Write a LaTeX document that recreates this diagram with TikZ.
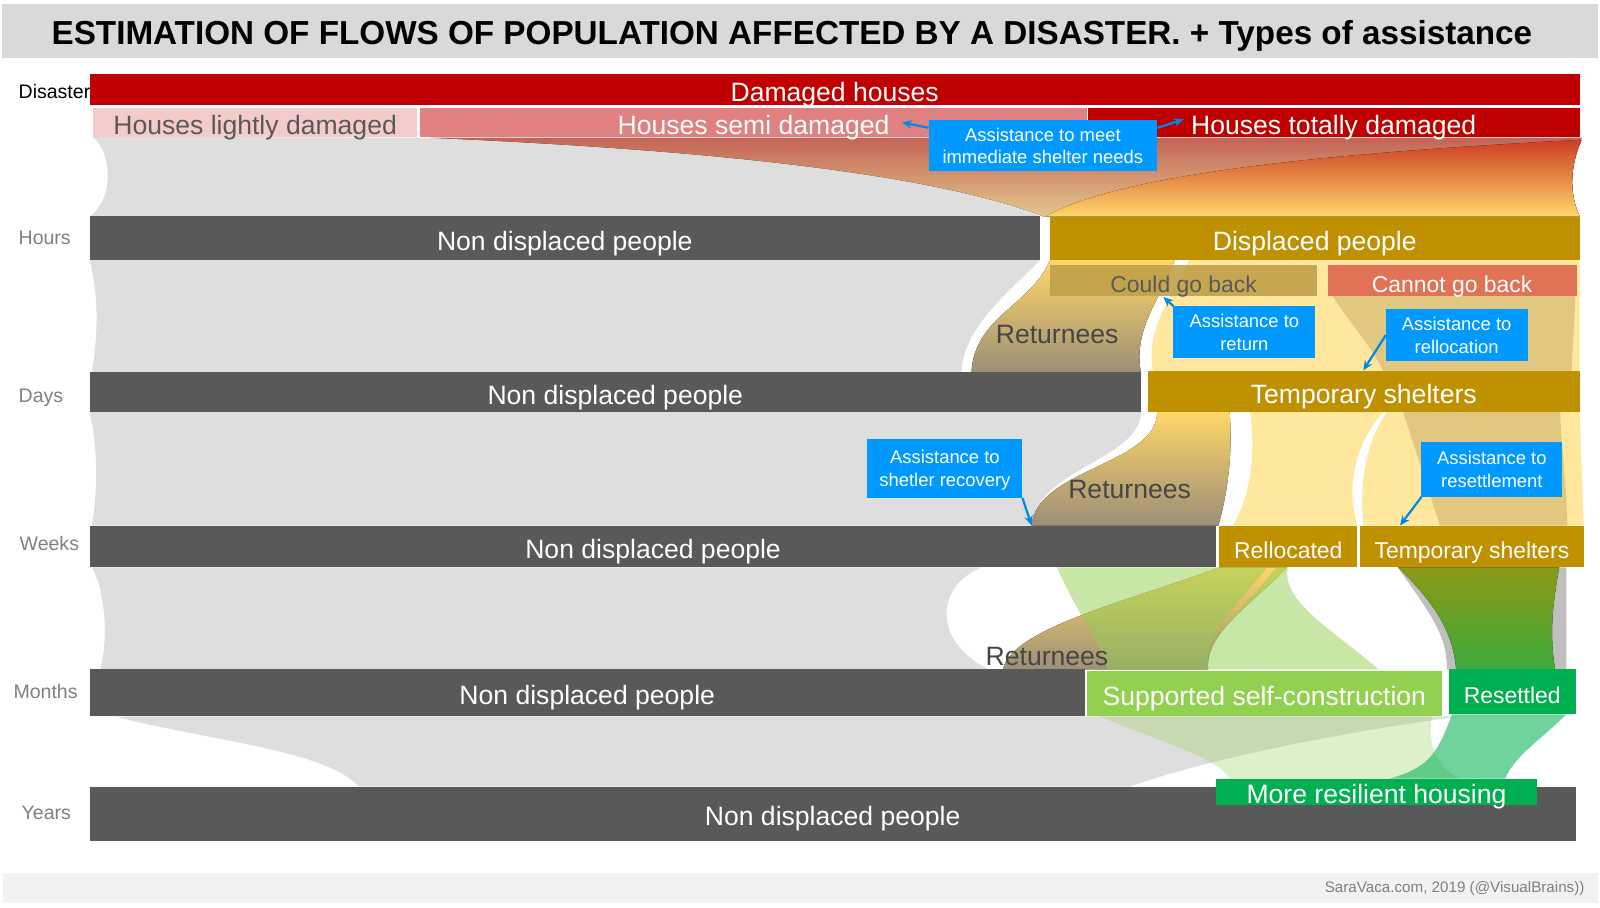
\documentclass[tikz,border=0pt]{standalone}
\usepackage{fontspec}
\setmainfont{Liberation Sans}
\usetikzlibrary{arrows.meta,positioning}
\definecolor{ndgray}{RGB}{89,89,89}
\definecolor{flowgray}{RGB}{222,222,222}
\definecolor{slivergray}{RGB}{191,191,191}
\definecolor{dmgred}{RGB}{192,0,0}
\definecolor{lightpink}{RGB}{243,203,203}
\definecolor{semired}{RGB}{224,128,128}
\definecolor{dispgold}{RGB}{191,144,0}
\definecolor{couldtan}{RGB}{192,160,72}
\definecolor{cannotred}{RGB}{226,114,86}
\definecolor{selfgreen}{RGB}{146,208,80}
\definecolor{resgreen}{RGB}{0,176,80}
\definecolor{callblue}{RGB}{0,153,255}
\definecolor{lightyel}{RGB}{255,231,158}
\definecolor{tanflow}{RGB}{226,199,128}
\definecolor{retyel}{RGB}{255,214,105}
\definecolor{retbrown}{RGB}{155,143,118}
\definecolor{mutedtop}{RGB}{196,100,86}
\definecolor{mutedbot}{RGB}{226,200,140}
\definecolor{vivtop}{RGB}{205,60,35}
\definecolor{vivmid}{RGB}{242,140,55}
\definecolor{vivbot}{RGB}{255,215,105}
\definecolor{olivetop}{RGB}{140,152,22}
\definecolor{olivebot}{RGB}{60,170,60}
\definecolor{labgray}{RGB}{128,128,128}
\definecolor{retgray}{RGB}{70,70,70}
\definecolor{titlegray}{RGB}{217,217,217}
\definecolor{footgray}{RGB}{242,242,242}
\newcommand{\pxu}{0.02551cm}
\newcommand{\bigfs}{\fontsize{18.9}{22}\selectfont}
\newcommand{\midfs}{\fontsize{16.3}{19}\selectfont}
\newcommand{\callfs}{\fontsize{13.1}{16}\selectfont}
\newcommand{\rowfs}{\fontsize{13.9}{16}\selectfont}
\tikzset{
  stage/.style={inner sep=0pt, outer sep=0pt, text=white, font=\bigfs, text height=17pt, text depth=0pt},
  redbar/.style={stage, fill=dmgred},
  pinkbar/.style={stage, fill=lightpink, text=ndgray},
  semibar/.style={stage, fill=semired},
  ndbar/.style={stage, fill=ndgray},
  goldbar/.style={stage, fill=dispgold},
  couldbar/.style={stage, fill=couldtan, fill opacity=0.9, text opacity=1, text=ndgray, font=\midfs},
  cannotbar/.style={stage, fill=cannotred, font=\midfs},
  selfbar/.style={stage, fill=selfgreen},
  resbar/.style={stage, fill=resgreen},
  callout/.style={inner sep=0pt, outer sep=0pt, text=white, fill=callblue, font=\callfs, align=center, text depth=-3pt},
  callarr/.style={-{Stealth[length=7pt, width=6pt]}, callblue!90!black, line width=1.6pt},
  retlab/.style={font=\bigfs, text=retgray, inner sep=0pt},
  rowlab/.style={font=\rowfs, text=labgray, inner sep=0pt, anchor=west, text height=10pt, text depth=0pt},
}
\newcommand{\flowbar}[7]{%
  \node[#2, anchor=north west, minimum width={(#5-#3)*\pxu}, minimum height={(#6-#4)*\pxu}] (#1) at (#3,#4) {#7};}

\begin{document}
\begin{tikzpicture}[x=\pxu, y=-\pxu]
  \useasboundingbox[fill=white] (0,0) rectangle (1568,889);
  \fill[titlegray] (2,4) rectangle (1566,57);
  \fill[footgray] (3,856) rectangle (1566,885);
  \node[font=\fontsize{23.65}{26}\selectfont\bfseries, inner sep=0pt, text height=17pt, text depth=0pt] (title) at (776,32)
    {ESTIMATION OF FLOWS OF POPULATION AFFECTED BY A DISASTER. + Types of assistance};
  \node[font=\fontsize{10.8}{12}\selectfont, text=labgray, inner sep=0pt, anchor=east] (credit) at (1553,871)
    {SaraVaca.com, 2019 (@VisualBrains))};

  % flows
  \fill[flowgray] (91,134) .. controls (110,150) and (112,195) .. (88,212) -- (1019,212)
    .. controls (900,165) and (650,145) .. (422,135) -- cycle;
  \fill[top color=mutedtop, bottom color=mutedbot] (422,135) .. controls (650,145) and (900,165) .. (1022,212)
    -- (1548,212) .. controls (1538,190) and (1538,165) .. (1550,135) -- cycle;
  \fill[top color=vivtop, middle color=vivmid, bottom color=vivbot] (1025,212) .. controls (1100,170) and (1300,150) .. (1550,137)
    .. controls (1538,165) and (1538,190) .. (1548,212) -- cycle;

  \fill[flowgray] (88,255) .. controls (97,290) and (96,330) .. (90,365) -- (942,365)
    .. controls (945,320) and (985,290) .. (1019,255) -- cycle;
  \fill[top color=retyel, bottom color=retbrown] (1029,255) .. controls (1010,300) and (955,310) .. (952,365)
    -- (1118,365) .. controls (1110,320) and (1140,290) .. (1151,255) -- cycle;
  \fill[lightyel] (1165,255) .. controls (1150,290) and (1122,320) .. (1130,365) -- (1548,365) -- (1548,255) -- cycle;
  \fill[tanflow] (1306,290) .. controls (1325,320) and (1345,340) .. (1356,365) -- (1540,365) -- (1544,290) -- cycle;

  \fill[flowgray] (88,404) .. controls (96,440) and (96,480) .. (90,515) -- (1011,515)
    .. controls (1015,460) and (1118,450) .. (1118,404) -- cycle;
  \fill[top color=retyel, bottom color=retbrown] (1134,404) .. controls (1134,455) and (1015,460) .. (1011,515)
    -- (1194,515) .. controls (1204,480) and (1208,440) .. (1205,404) -- cycle;
  \fill[lightyel] (1225,404) .. controls (1232,450) and (1222,495) .. (1208,515) -- (1330,515)
    .. controls (1320,480) and (1325,440) .. (1355,404) -- cycle;
  \fill[lightyel] (1359,404) .. controls (1335,440) and (1333,480) .. (1336,515) -- (1552,515) -- (1548,404) -- cycle;
  \fill[tanflow] (1375,404) .. controls (1390,450) and (1400,480) .. (1411,515) -- (1536,515)
    .. controls (1535,470) and (1530,440) .. (1529,404) -- cycle;

  \fill[flowgray] (90,556) .. controls (104,580) and (106,630) .. (98,656) -- (969,656)
    .. controls (915,630) and (915,575) .. (962,556) -- cycle;
  \fill[top color=retyel, bottom color=retbrown] (983,656) .. controls (990,615) and (1120,585) .. (1195,556)
    -- (1261,556) .. controls (1230,590) and (1180,620) .. (1184,656) -- cycle;
  \fill[selfgreen, opacity=0.5] (1036,556) .. controls (1050,590) and (1075,625) .. (1085,656) -- (1184,656)
    .. controls (1180,620) and (1215,590) .. (1242,556) -- cycle;
  \fill[selfgreen, opacity=0.5] (1250,556) .. controls (1228,590) and (1180,620) .. (1184,656) -- (1351,656)
    .. controls (1310,620) and (1255,590) .. (1262,556) -- cycle;
  \fill[slivergray] (1370,556) .. controls (1400,600) and (1418,620) .. (1418,656) -- (1535,656) -- (1535,556) -- cycle;
  \fill[top color=olivetop, bottom color=olivebot] (1370,556) .. controls (1400,585) and (1424,615) .. (1427,656)
    -- (1524,656) .. controls (1518,620) and (1522,590) .. (1528,556) -- cycle;

  \fill[flowgray] (112,702) .. controls (200,725) and (320,735) .. (352,771) -- (1107,771)
    .. controls (1180,745) and (1300,720) .. (1430,702) -- cycle;
  \fill[selfgreen, opacity=0.3] (1078,702) .. controls (1130,725) and (1190,740) .. (1205,763) -- (1430,763)
    .. controls (1405,750) and (1400,730) .. (1403,702) -- cycle;
  \fill[resgreen, opacity=0.56] (1423,700) .. controls (1408,740) and (1400,752) .. (1362,763) -- (1475,763)
    .. controls (1485,740) and (1510,725) .. (1535,700) -- cycle;

  % stages
  \flowbar{dmg}{redbar}{88}{73}{1548}{103}{Damaged houses}
  \flowbar{lightly}{pinkbar}{91}{106}{409}{134}{Houses lightly damaged}
  \flowbar{semi}{semibar}{412}{106}{1065}{134}{Houses semi damaged}
  \flowbar{total}{redbar}{1066}{106}{1548}{134}{Houses totally damaged}
  \flowbar{ndh}{ndbar}{88}{212}{1019}{255}{Non displaced people}
  \flowbar{disp}{goldbar}{1029}{213}{1548}{255}{Displaced people}
  \flowbar{could}{couldbar}{1029}{260}{1291}{290}{Could go back}
  \flowbar{cannot}{cannotbar}{1301}{260}{1545}{290}{Cannot go back}
  \flowbar{ndd}{ndbar}{88}{365}{1118}{404}{Non displaced people}
  \flowbar{tmpd}{goldbar}{1125}{364}{1548}{404}{Temporary shelters}
  \flowbar{ndw}{ndbar}{88}{515}{1192}{556}{Non displaced people}
  \flowbar{reloc}{goldbar, font=\midfs}{1195}{515}{1330}{556}{Rellocated}
  \flowbar{tmpw}{goldbar, font=\midfs}{1333}{515}{1552}{556}{Temporary shelters}
  \flowbar{ndm}{ndbar}{88}{656}{1063}{702}{Non displaced people}
  \flowbar{selfc}{selfbar}{1065}{658}{1413}{702}{Supported self-construction}
  \flowbar{resett}{resbar, font=\midfs}{1420}{656}{1544}{700}{Resettled}
  \flowbar{ndy}{ndbar}{88}{771}{1544}{824}{Non displaced people}
  \flowbar{resil}{resbar}{1192}{763}{1506}{789}{More resilient housing}

  \node[retlab] (ret1) at (1036,328) {Returnees};
  \node[retlab] (ret2) at (1107,480) {Returnees};
  \node[retlab] (ret3) at (1026,643) {Returnees};

  \node[rowlab, text=black] (lbdis) at (18,90) {Disaster};
  \node[rowlab] (lbhours) at (18,233) {Hours};
  \node[rowlab] (lbdays) at (18,388) {Days};
  \node[rowlab] (lbweeks) at (19,533) {Weeks};
  \node[rowlab] (lbmonths) at (13,678) {Months};
  \node[rowlab] (lbyears) at (21,796) {Years};

  % assistance
  \coordinate (semiend) at (884,120);
  \coordinate (totalend) at (1160,117);
  \coordinate (couldend) at (1140,291);
  \coordinate (tmpdend) at (1336,363);
  \coordinate (ndwend) at (1011,515);
  \coordinate (tmpwend) at (1372,515);
  \flowbar{asmeet}{callout}{910}{118}{1134}{168}{Assistance to meet\\immediate shelter needs}
  \flowbar{asret}{callout}{1150}{300}{1289}{351}{Assistance to\\return}
  \flowbar{asreloc}{callout}{1358}{303}{1497}{354}{Assistance to\\rellocation}
  \flowbar{asrec}{callout}{850}{430}{1002}{488}{Assistance to\\shetler recovery}
  \flowbar{asresett}{callout}{1393}{433}{1531}{487}{Assistance to\\resettlement}
  \draw[callarr] (asmeet.171) -- (semiend);
  \draw[callarr] (asmeet.9) -- (totalend);
  \draw[callarr] (asret.north west) -- (couldend);
  \draw[callarr] (asreloc.west) -- (tmpdend);
  \draw[callarr] (asrec.south east) -- (ndwend);
  \draw[callarr] (asresett.south west) -- (tmpwend);
\end{tikzpicture}
\end{document}
